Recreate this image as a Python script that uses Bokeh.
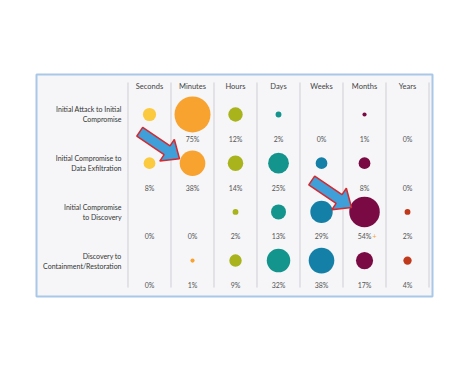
import math
from bokeh.plotting import figure
from bokeh.models import Range1d, ColumnDataSource
from bokeh.core.properties import value
from bokeh.embed import file_html
from bokeh.resources import INLINE

# ---- data ----
units = ["Seconds", "Minutes", "Hours", "Days", "Weeks", "Months", "Years"]
stages = ["Initial Attack to Initial\nCompromise",
          "Initial Compromise to\nData Exfiltration",
          "Initial Compromise\nto Discovery",
          "Discovery to\nContainment/Restoration"]
attack_to_compromise = [10, 75, 12, 2, 0, 1, 0]
compromise_to_exfil = [8, 38, 14, 25, 8, 8, 0]
compromise_to_discovery = [0, 0, 2, 13, 29, 54, 2]
discovery_to_containment = [0, 1, 9, 32, 38, 17, 4]
labels_1 = ["", "75%", "12%", "2%", "0%", "1%", "0%"]
labels_2 = ["8%", "38%", "14%", "25%", "", "8%", "0%"]
labels_3 = ["0%", "0%", "2%", "13%", "29%", "54%", "2%"]
labels_4 = ["0%", "1%", "9%", "32%", "38%", "17%", "4%"]
unit_colors = ["#fbca3f", "#f8a22f", "#a9b41d", "#13948c", "#1580a7", "#7a0a43", "#c0391b"]
# arrows point at (unit index, stage index)
arrow_targets = [(1, 1), (5, 2)]

rows = [attack_to_compromise, compromise_to_exfil, compromise_to_discovery, discovery_to_containment]
row_labels = [labels_1, labels_2, labels_3, labels_4]

PX_X = 43.0   # pixels per column
PX_Y = 48.7   # pixels per row
MAX_D = 36.0  # diameter of the 75% bubble

W, H = 458, 350
p = figure(width=W, height=H, output_backend="svg", toolbar_location=None,
           x_range=Range1d(-2.628, 6.581), y_range=Range1d(3.737, -0.821),
           min_border_left=36, min_border_right=26, min_border_top=74, min_border_bottom=54)
p.axis.visible = False
p.grid.visible = False
p.background_fill_color = "#f6f6f8"
p.border_fill_color = "white"
p.outline_line_color = "#a9c7e7"
p.outline_line_width = 2

FONT = value("Lato")

# column separators
for i in range(len(units) + 1):
    p.segment(x0=i - 0.5, y0=-0.657, x1=i - 0.5, y1=3.553, line_color="#cfcfd5", line_width=1)

# headers
p.text(x=list(range(len(units))), y=[-0.575] * len(units), text=units,
       text_font=FONT, text_font_size="7.5px", text_color="#444444",
       text_align="center", text_baseline="middle")

# row labels
p.text(x=[-0.651] * len(stages), y=list(range(len(stages))), text=stages,
       text_font=FONT, text_font_size="7px", text_color="#333333",
       text_align="right", text_baseline="middle", text_line_height=1.25)

# bubbles and percent labels
xs, ys, sizes, cols, lx, ly, lt = [], [], [], [], [], [], []
for r, (vals, labs) in enumerate(zip(rows, row_labels)):
    for c, v in enumerate(vals):
        if v > 0:
            xs.append(c); ys.append(r)
            sizes.append(MAX_D * math.sqrt(v / 75.0))
            cols.append(unit_colors[c])
        if labs[c]:
            lx.append(c); ly.append(r + 0.5); lt.append(labs[c])

src = ColumnDataSource(dict(x=xs, y=ys, size=sizes, color=cols))
p.scatter(x="x", y="y", size="size", fill_color="color", line_color=None, source=src)
p.text(x=lx, y=ly, text=lt, text_font=FONT, text_font_size="7px", text_color="#555555",
       text_align="center", text_baseline="middle")

# small orange mark after 54%
p.text(x=[5 + 10.0 / PX_X], y=[2 + 0.5], text=["+"], text_font=FONT, text_font_size="7px",
       text_color="#f8a22f", text_align="center", text_baseline="middle")

# arrows (blue with red outline)
ang = math.radians(34)
ux, uy = math.cos(ang), math.sin(ang)
nx, ny = -uy, ux
L, h, w, Hh = 48.0, 15.0, 5.3, 13.0
shape = [(-L, w), (-h, w), (-h, Hh), (0, 0), (-h, -Hh), (-h, -w), (-L, -w)]
for (c, r) in arrow_targets:
    tx = c - 13.0 / PX_X
    ty = r - 4.5 / PX_Y
    ax = [tx + (a * ux + b * nx) / PX_X for a, b in shape]
    ay = [ty + (a * uy + b * ny) / PX_Y for a, b in shape]
    p.patch(ax, ay, fill_color="#3e9fd9", line_color="#d42a2f", line_width=1.5)

open("out.html", "w").write(file_html(p, INLINE))
